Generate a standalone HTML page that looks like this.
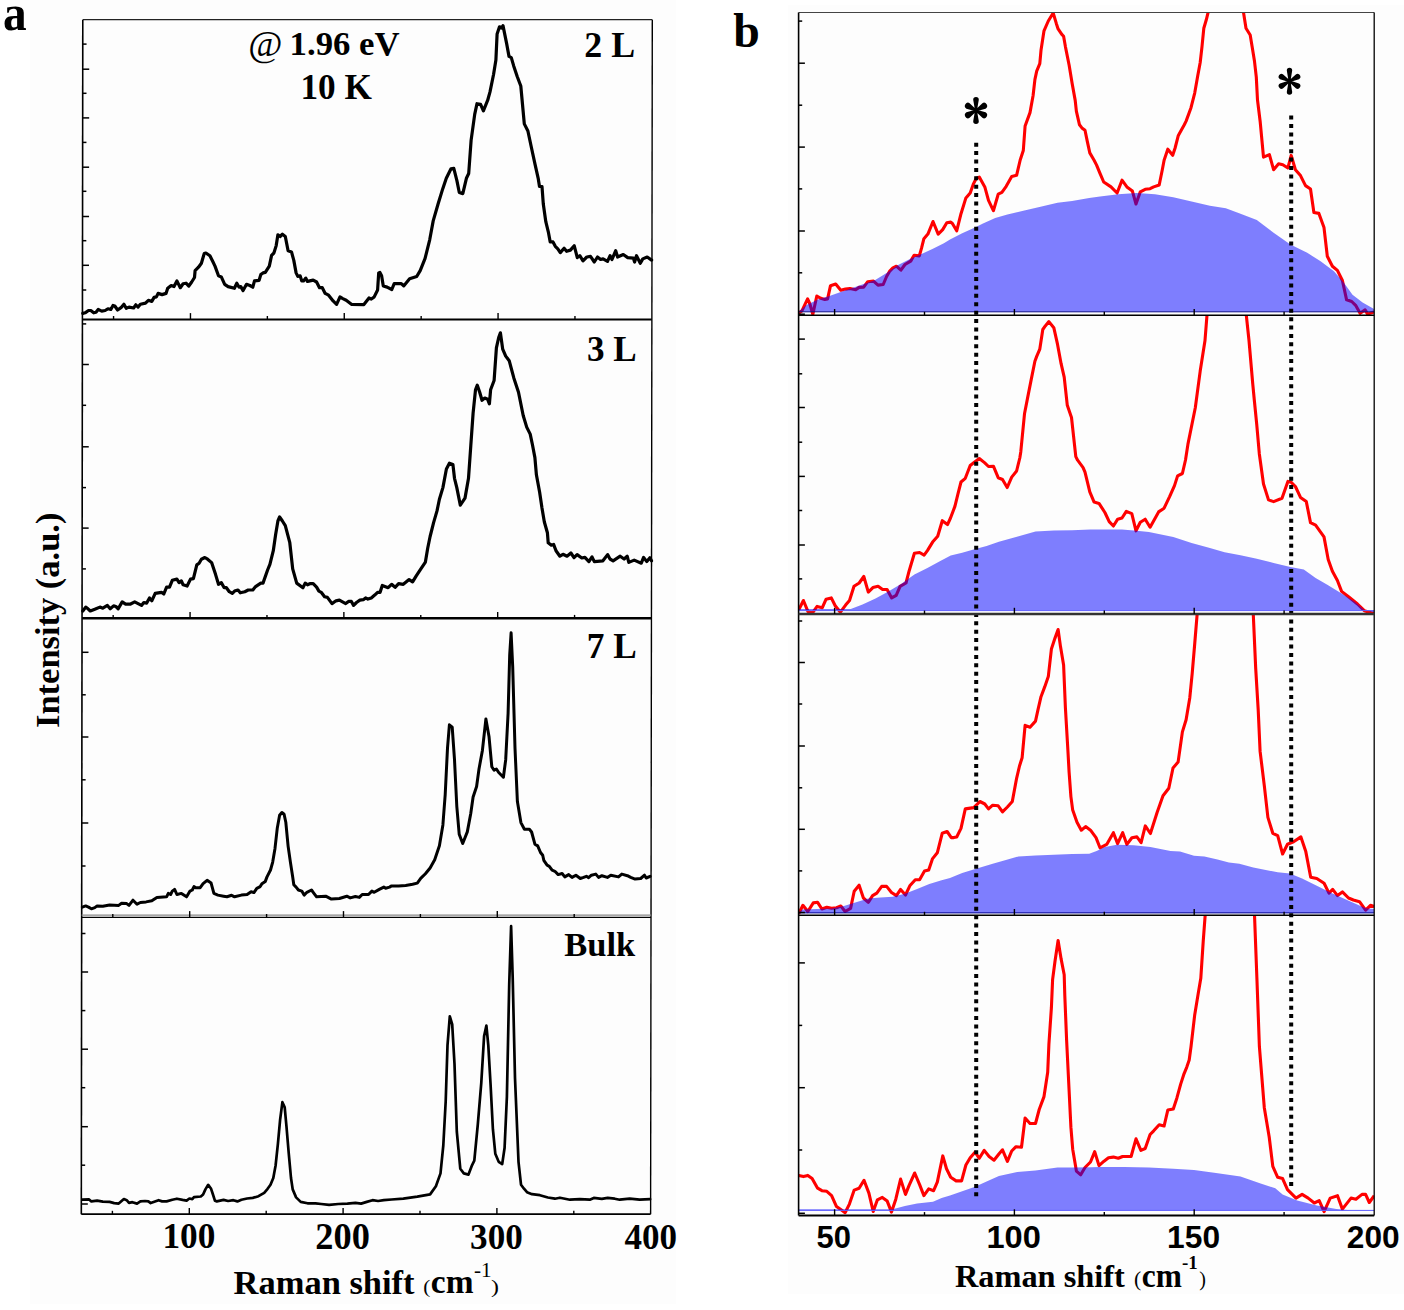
<!DOCTYPE html>
<html><head><meta charset="utf-8"><title>Raman spectra</title>
<style>html,body{margin:0;padding:0;background:#fff;overflow:hidden}svg{display:block}</style>
</head><body>
<svg width="1404" height="1310" viewBox="0 0 1404 1310">
<rect x="0" y="0" width="1404" height="1310" fill="#ffffff"/>
<rect x="30" y="0" width="646" height="1304" fill="#fdfdfd"/>
<rect x="788" y="5" width="616" height="1289" fill="#fdfdfd"/>
<polyline points="82.8,313.4 85.1,312.8 88.5,310.5 90.8,310.5 93.7,312.8 96.0,312.2 98.2,309.4 101.7,311.1 105.1,310.5 107.9,308.8 110.8,309.4 113.0,305.4 114.8,306.0 117.6,310.0 121.0,307.7 123.9,304.3 126.2,308.3 129.0,307.1 133.6,308.0 135.8,304.8 138.1,307.1 140.4,304.3 145.5,303.1 148.4,300.3 151.8,301.4 154.1,297.4 156.4,296.9 158.1,293.4 162.1,294.6 166.0,293.4 167.7,288.3 171.2,285.5 174.0,286.6 176.9,280.9 180.3,287.7 183.1,283.8 186.0,283.2 188.8,286.0 191.7,282.0 194.5,277.5 195.1,270.7 198.5,267.2 201.4,263.2 204.2,253.6 205.9,253.0 209.9,255.8 212.8,261.5 215.0,266.1 218.5,275.8 221.3,276.9 224.7,284.3 228.1,286.6 234.4,288.3 236.8,283.2 239.1,287.2 240.8,286.6 243.1,290.6 246.5,284.3 249.9,285.5 252.8,287.2 254.5,280.9 259.1,280.3 260.8,274.6 263.0,272.9 265.3,272.4 269.3,266.1 271.6,255.3 273.9,253.0 276.2,245.6 277.9,234.8 280.1,236.5 282.4,234.2 285.3,236.5 288.1,250.7 291.5,251.9 293.8,260.4 296.1,272.9 297.8,276.4 300.1,275.8 301.8,280.9 303.5,280.9 305.8,278.1 307.5,281.5 309.8,280.9 313.2,280.1 316.6,282.0 319.5,287.7 322.3,287.7 325.2,293.4 328.6,295.2 333.1,300.9 336.6,304.3 340.0,296.9 342.8,298.6 346.2,300.3 351.4,304.3 363.9,304.6 369.0,298.0 371.3,299.1 374.2,296.9 377.6,290.0 378.7,272.9 379.9,272.4 381.6,275.8 383.3,286.0 387.1,287.1 391.8,289.5 394.2,283.6 401.3,283.6 403.7,285.9 409.6,278.8 416.7,276.5 420.2,270.6 425.0,258.7 429.7,239.8 433.2,220.9 438.0,204.3 442.7,188.9 446.3,178.3 451.0,168.8 453.8,168.3 456.9,180.6 459.3,192.5 462.8,193.6 466.4,178.3 468.7,173.5 471.1,140.4 474.7,114.4 477.0,103.7 480.6,104.4 483.4,110.8 487.7,100.2 490.0,91.9 493.6,74.2 495.9,60.0 497.1,33.9 499.5,26.8 501.9,28.0 503.0,25.6 506.6,43.4 509.0,56.4 511.3,57.6 513.7,65.9 517.2,76.5 520.8,86.0 524.3,123.9 527.9,131.0 531.4,147.5 535.0,164.1 538.3,178.9 539.5,186.5 542.0,186.5 543.3,204.1 545.8,221.7 548.3,231.8 550.2,241.9 553.0,241.9 555.3,246.3 557.8,248.8 560.3,252.6 564.1,248.2 566.6,251.3 570.4,250.1 574.2,245.7 577.3,257.6 579.8,255.7 583.0,260.8 586.8,257.0 590.5,256.4 594.3,262.0 597.5,257.0 600.6,259.5 603.1,258.9 607.5,261.4 610.1,255.7 612.0,259.5 615.7,250.7 617.6,257.0 623.3,254.5 627.7,257.6 633.4,258.2 634.6,262.0 636.5,255.7 640.3,263.3 642.8,258.9 647.2,257.0 651.6,260.1" fill="none" stroke="#000" stroke-width="3.2" stroke-linejoin="round" stroke-linecap="round"/>
<polyline points="82.8,611.0 85.7,607.1 88.0,608.8 90.3,611.0 94.8,609.3 99.9,607.1 102.8,608.2 107.4,605.4 110.2,608.8 113.6,605.9 115.9,606.5 118.2,608.8 122.2,601.9 125.6,604.2 130.1,604.2 134.7,601.9 141.5,605.4 143.8,602.5 146.7,603.1 149.5,597.9 151.8,600.8 155.2,593.4 161.5,592.3 163.8,594.0 166.6,587.1 169.5,587.1 172.3,580.3 176.9,579.1 179.1,582.6 181.4,580.9 183.1,584.8 187.1,586.0 190.5,579.1 193.4,578.6 196.8,564.9 199.1,563.2 201.4,559.2 204.8,557.5 207.6,559.2 211.6,562.6 215.6,574.6 218.5,584.3 221.3,582.6 224.2,587.7 226.4,587.7 229.3,591.7 232.3,593.4 234.6,591.1 238.0,590.0 240.3,592.8 244.8,591.7 248.2,590.0 252.8,590.0 255.6,586.6 260.8,583.1 263.0,583.1 267.6,570.0 269.9,564.3 273.3,550.7 275.6,534.7 277.9,521.0 279.6,517.0 282.4,521.0 285.3,525.6 289.8,542.7 292.7,568.9 296.7,583.1 302.9,587.7 305.2,583.1 307.5,584.8 309.8,583.7 313.2,583.7 316.6,587.1 318.9,591.1 321.2,592.3 324.6,596.8 327.4,597.4 332.0,603.6 336.0,600.8 339.4,600.2 345.7,603.6 348.5,601.4 351.4,601.4 353.6,605.4 356.5,602.5 359.9,600.2 363.3,599.7 365.6,597.9 367.9,599.1 371.3,597.9 374.7,595.1 377.6,592.3 380.0,592.4 382.3,585.4 388.1,587.7 391.6,584.3 395.1,587.3 398.6,583.6 403.3,584.3 409.1,579.6 412.6,581.9 416.1,576.1 420.7,569.1 425.4,562.1 427.7,548.2 430.1,536.5 433.6,522.6 437.0,510.9 439.4,499.3 442.9,487.6 446.4,469.0 449.4,463.2 452.9,464.4 454.5,478.3 456.8,487.6 460.3,505.1 465.0,498.1 468.5,478.3 470.8,445.7 473.1,413.1 475.5,389.8 477.3,385.2 479.7,392.2 482.0,400.3 484.8,398.0 487.6,399.2 489.4,403.8 490.6,389.8 494.1,380.5 496.4,347.9 498.7,337.5 500.4,332.8 502.7,349.1 505.7,356.1 509.2,360.7 513.9,378.2 518.5,392.2 523.2,415.5 526.7,427.1 530.2,434.1 532.5,445.0 534.9,457.6 536.4,474.8 539.6,492.0 541.9,507.6 544.3,521.7 547.4,532.7 548.2,542.8 551.3,545.2 553.6,544.4 556.0,550.7 559.9,556.2 563.0,554.3 567.0,556.2 570.9,553.0 574.0,557.7 577.1,554.6 581.8,558.0 584.9,557.4 588.9,561.6 592.0,556.9 594.3,561.6 602.9,560.8 607.6,554.6 610.0,559.0 613.1,560.8 620.2,556.2 624.1,559.0 627.2,556.2 628.8,562.4 634.2,560.1 641.3,563.2 643.6,557.4 646.8,561.6 649.9,557.7 651.5,560.8" fill="none" stroke="#000" stroke-width="3.2" stroke-linejoin="round" stroke-linecap="round"/>
<polyline points="82.3,907.1 85.7,905.9 88.5,907.1 91.4,908.8 94.8,907.6 97.1,905.9 102.8,906.3 109.6,905.1 118.7,905.4 121.6,903.3 126.7,903.6 129.0,905.4 133.0,900.2 137.0,904.2 140.4,902.5 146.1,901.9 151.8,900.8 156.9,897.4 166.6,896.8 168.3,893.4 170.6,894.5 172.3,891.1 174.6,889.4 176.9,894.5 181.4,893.4 186.6,896.8 190.0,891.1 192.3,890.0 194.0,886.6 195.7,887.7 200.2,887.7 203.1,883.7 207.1,880.3 211.1,883.1 213.9,893.4 217.9,895.1 223.6,896.2 227.0,896.8 231.6,895.3 234.6,896.8 241.4,895.1 247.1,894.5 251.1,891.7 253.9,892.6 256.8,888.3 260.2,886.6 261.9,883.7 265.3,881.4 267.0,876.9 270.5,870.0 272.7,862.1 275.0,848.4 277.3,827.9 279.6,815.3 281.9,812.5 284.1,814.2 285.8,822.2 288.1,846.1 290.4,862.1 292.7,876.9 293.8,884.8 296.1,887.1 298.4,890.0 301.8,891.1 304.1,895.1 306.9,892.3 311.5,890.0 313.2,892.3 316.6,896.8 321.2,896.5 325.7,896.2 331.4,899.1 339.4,898.5 346.8,896.2 350.2,897.9 355.4,896.5 359.3,897.4 362.2,894.5 368.5,894.5 371.9,891.1 374.2,892.3 379.3,889.4 383.8,887.1 385.6,888.3 389.5,887.1 391.6,885.9 398.6,885.9 405.6,885.4 412.6,884.3 417.3,883.1 420.7,878.4 425.4,873.8 430.1,868.0 434.7,859.8 439.4,845.8 442.9,824.9 445.2,794.6 447.5,748.1 449.4,724.8 452.2,727.1 454.5,759.7 456.8,806.3 459.2,834.2 462.7,843.5 467.3,831.9 470.8,813.2 473.1,797.0 476.6,786.5 479.0,769.0 482.4,750.4 485.9,719.0 489.0,736.4 491.8,766.7 494.1,770.2 496.4,769.0 498.7,772.5 503.4,777.2 505.7,759.7 508.1,713.1 509.7,654.9 511.1,632.8 512.7,666.6 515.0,748.1 517.4,801.6 520.9,822.6 524.4,829.3 529.4,829.3 531.6,832.0 534.9,844.2 537.7,845.9 540.5,852.5 542.7,855.3 543.8,860.3 547.1,865.2 549.3,866.3 552.1,870.2 554.9,871.3 558.2,874.6 562.1,873.5 564.8,876.9 568.7,874.6 572.0,877.4 575.9,875.2 580.3,878.5 583.6,877.4 586.4,876.3 588.6,877.6 591.4,875.2 595.8,874.1 598.6,877.4 601.9,875.7 607.4,877.4 610.8,875.2 618.5,876.9 621.8,874.1 627.4,875.7 630.7,877.4 635.1,879.1 640.7,878.5 644.5,875.2 646.2,878.0 650.1,876.3" fill="none" stroke="#000" stroke-width="3.0" stroke-linejoin="round" stroke-linecap="round"/>
<polyline points="82.3,1199.7 89.1,1199.4 91.4,1201.4 97.1,1200.6 102.8,1201.7 109.6,1201.9 114.2,1203.1 118.7,1203.6 123.9,1199.1 126.7,1200.2 129.0,1202.8 132.4,1202.2 137.0,1203.6 140.4,1201.4 145.0,1201.0 148.4,1201.4 150.7,1203.1 158.6,1200.2 162.1,1201.4 166.6,1201.4 172.3,1199.7 176.9,1198.7 182.6,1199.9 186.6,1200.6 189.4,1198.5 192.3,1199.1 194.0,1197.1 200.8,1196.5 203.1,1194.5 205.4,1189.4 208.2,1184.8 211.1,1188.8 212.8,1194.0 215.0,1200.8 216.8,1201.4 223.6,1199.9 228.1,1201.0 233.4,1200.2 237.4,1201.4 241.4,1199.7 247.1,1198.5 252.8,1197.9 258.5,1196.2 264.2,1192.8 267.6,1188.8 270.5,1184.8 273.3,1178.0 275.6,1165.5 277.9,1143.8 280.1,1119.9 282.4,1102.2 284.7,1107.4 286.4,1125.6 288.7,1152.9 291.0,1178.0 292.7,1189.4 296.1,1197.4 300.7,1201.9 307.5,1203.3 315.5,1203.3 321.2,1204.0 329.1,1204.8 338.3,1204.0 347.4,1203.6 355.4,1202.8 361.1,1203.6 366.8,1201.9 372.5,1200.2 378.1,1201.0 383.8,1200.2 391.6,1199.5 403.3,1198.6 417.3,1196.7 430.1,1194.4 435.9,1186.2 440.5,1173.4 443.3,1145.5 445.7,1101.3 447.5,1045.4 449.8,1016.3 452.2,1024.4 454.5,1064.0 456.8,1131.5 460.3,1168.8 463.8,1173.4 468.5,1174.6 472.0,1165.3 474.3,1160.6 477.8,1124.5 481.3,1082.6 484.1,1036.1 486.4,1025.6 488.3,1045.4 490.6,1085.0 492.9,1129.2 495.3,1153.7 498.7,1161.8 502.2,1164.1 504.6,1147.8 506.9,1096.6 509.2,984.8 511.1,926.2 512.7,977.9 515.0,1078.0 518.5,1161.8 521.0,1184.7 524.0,1188.7 527.0,1192.2 532.0,1194.2 539.9,1195.2 547.9,1197.5 554.9,1198.7 559.9,1197.7 569.9,1199.7 579.8,1199.2 589.8,1199.7 593.8,1197.9 601.8,1198.9 607.7,1197.9 614.7,1198.7 619.7,1199.7 629.7,1198.7 639.6,1199.7 650.1,1199.2" fill="none" stroke="#000" stroke-width="2.7" stroke-linejoin="round" stroke-linecap="round"/>
<line x1="82.79" y1="19.70" x2="652.30" y2="19.70" stroke="#222" stroke-width="1.3"/>
<line x1="82.79" y1="19.70" x2="81.30" y2="1214.20" stroke="#000" stroke-width="1.6"/>
<line x1="652.30" y1="19.70" x2="650.60" y2="1214.20" stroke="#000" stroke-width="1.4"/>
<line x1="82.42" y1="319.40" x2="651.87" y2="319.40" stroke="#000" stroke-width="2.0"/>
<line x1="82.04" y1="618.30" x2="651.45" y2="618.30" stroke="#000" stroke-width="2.4"/>
<line x1="81.67" y1="915.20" x2="651.02" y2="915.20" stroke="#888" stroke-width="1.3"/>
<line x1="81.67" y1="917.40" x2="651.02" y2="917.40" stroke="#000" stroke-width="1.4"/>
<line x1="81.30" y1="1214.20" x2="650.60" y2="1214.20" stroke="#000" stroke-width="1.8"/>
<line x1="82.76" y1="44.10" x2="86.56" y2="44.10" stroke="#000" stroke-width="1.5"/>
<line x1="82.73" y1="69.20" x2="89.23" y2="69.20" stroke="#000" stroke-width="1.5"/>
<line x1="82.70" y1="93.30" x2="86.50" y2="93.30" stroke="#000" stroke-width="1.5"/>
<line x1="82.67" y1="117.90" x2="89.17" y2="117.90" stroke="#000" stroke-width="1.5"/>
<line x1="82.64" y1="142.40" x2="86.44" y2="142.40" stroke="#000" stroke-width="1.5"/>
<line x1="82.61" y1="167.20" x2="89.11" y2="167.20" stroke="#000" stroke-width="1.5"/>
<line x1="82.58" y1="191.30" x2="86.38" y2="191.30" stroke="#000" stroke-width="1.5"/>
<line x1="82.55" y1="216.50" x2="89.05" y2="216.50" stroke="#000" stroke-width="1.5"/>
<line x1="82.52" y1="240.70" x2="86.32" y2="240.70" stroke="#000" stroke-width="1.5"/>
<line x1="82.49" y1="265.30" x2="88.99" y2="265.30" stroke="#000" stroke-width="1.5"/>
<line x1="82.45" y1="290.00" x2="86.25" y2="290.00" stroke="#000" stroke-width="1.5"/>
<line x1="82.41" y1="323.90" x2="86.21" y2="323.90" stroke="#000" stroke-width="1.5"/>
<line x1="82.36" y1="364.50" x2="88.86" y2="364.50" stroke="#000" stroke-width="1.5"/>
<line x1="82.31" y1="405.30" x2="86.11" y2="405.30" stroke="#000" stroke-width="1.5"/>
<line x1="82.26" y1="446.80" x2="88.76" y2="446.80" stroke="#000" stroke-width="1.5"/>
<line x1="82.21" y1="487.60" x2="86.01" y2="487.60" stroke="#000" stroke-width="1.5"/>
<line x1="82.16" y1="528.10" x2="88.66" y2="528.10" stroke="#000" stroke-width="1.5"/>
<line x1="82.11" y1="568.90" x2="85.91" y2="568.90" stroke="#000" stroke-width="1.5"/>
<line x1="82.00" y1="652.30" x2="88.50" y2="652.30" stroke="#000" stroke-width="1.5"/>
<line x1="81.95" y1="694.80" x2="85.75" y2="694.80" stroke="#000" stroke-width="1.5"/>
<line x1="81.90" y1="737.00" x2="88.40" y2="737.00" stroke="#000" stroke-width="1.5"/>
<line x1="81.84" y1="779.80" x2="85.64" y2="779.80" stroke="#000" stroke-width="1.5"/>
<line x1="81.79" y1="823.00" x2="88.29" y2="823.00" stroke="#000" stroke-width="1.5"/>
<line x1="81.73" y1="866.00" x2="85.53" y2="866.00" stroke="#000" stroke-width="1.5"/>
<line x1="81.65" y1="933.50" x2="85.45" y2="933.50" stroke="#000" stroke-width="1.5"/>
<line x1="81.60" y1="972.00" x2="88.10" y2="972.00" stroke="#000" stroke-width="1.5"/>
<line x1="81.55" y1="1010.60" x2="85.35" y2="1010.60" stroke="#000" stroke-width="1.5"/>
<line x1="81.51" y1="1049.20" x2="88.01" y2="1049.20" stroke="#000" stroke-width="1.5"/>
<line x1="81.46" y1="1087.70" x2="85.26" y2="1087.70" stroke="#000" stroke-width="1.5"/>
<line x1="81.41" y1="1126.70" x2="87.91" y2="1126.70" stroke="#000" stroke-width="1.5"/>
<line x1="81.36" y1="1165.20" x2="85.16" y2="1165.20" stroke="#000" stroke-width="1.5"/>
<line x1="81.31" y1="1204.00" x2="87.81" y2="1204.00" stroke="#000" stroke-width="1.5"/>
<line x1="113.56" y1="319.40" x2="113.56" y2="316.00" stroke="#000" stroke-width="1.4"/>
<line x1="190.46" y1="319.40" x2="190.46" y2="313.10" stroke="#000" stroke-width="1.4"/>
<line x1="267.36" y1="319.40" x2="267.36" y2="316.00" stroke="#000" stroke-width="1.4"/>
<line x1="344.26" y1="319.40" x2="344.26" y2="313.10" stroke="#000" stroke-width="1.4"/>
<line x1="421.16" y1="319.40" x2="421.16" y2="316.00" stroke="#000" stroke-width="1.4"/>
<line x1="498.06" y1="319.40" x2="498.06" y2="313.10" stroke="#000" stroke-width="1.4"/>
<line x1="574.96" y1="319.40" x2="574.96" y2="316.00" stroke="#000" stroke-width="1.4"/>
<line x1="113.17" y1="618.30" x2="113.17" y2="614.90" stroke="#000" stroke-width="1.4"/>
<line x1="190.07" y1="618.30" x2="190.07" y2="612.00" stroke="#000" stroke-width="1.4"/>
<line x1="266.97" y1="618.30" x2="266.97" y2="614.90" stroke="#000" stroke-width="1.4"/>
<line x1="343.87" y1="618.30" x2="343.87" y2="612.00" stroke="#000" stroke-width="1.4"/>
<line x1="420.77" y1="618.30" x2="420.77" y2="614.90" stroke="#000" stroke-width="1.4"/>
<line x1="497.67" y1="618.30" x2="497.67" y2="612.00" stroke="#000" stroke-width="1.4"/>
<line x1="574.57" y1="618.30" x2="574.57" y2="614.90" stroke="#000" stroke-width="1.4"/>
<line x1="112.79" y1="917.40" x2="112.79" y2="914.00" stroke="#000" stroke-width="1.4"/>
<line x1="189.69" y1="917.40" x2="189.69" y2="911.10" stroke="#000" stroke-width="1.4"/>
<line x1="266.59" y1="917.40" x2="266.59" y2="914.00" stroke="#000" stroke-width="1.4"/>
<line x1="343.49" y1="917.40" x2="343.49" y2="911.10" stroke="#000" stroke-width="1.4"/>
<line x1="420.39" y1="917.40" x2="420.39" y2="914.00" stroke="#000" stroke-width="1.4"/>
<line x1="497.29" y1="917.40" x2="497.29" y2="911.10" stroke="#000" stroke-width="1.4"/>
<line x1="574.19" y1="917.40" x2="574.19" y2="914.00" stroke="#000" stroke-width="1.4"/>
<line x1="112.40" y1="1214.20" x2="112.40" y2="1210.80" stroke="#000" stroke-width="1.4"/>
<line x1="189.30" y1="1214.20" x2="189.30" y2="1207.90" stroke="#000" stroke-width="1.4"/>
<line x1="266.20" y1="1214.20" x2="266.20" y2="1210.80" stroke="#000" stroke-width="1.4"/>
<line x1="343.10" y1="1214.20" x2="343.10" y2="1207.90" stroke="#000" stroke-width="1.4"/>
<line x1="420.00" y1="1214.20" x2="420.00" y2="1210.80" stroke="#000" stroke-width="1.4"/>
<line x1="496.90" y1="1214.20" x2="496.90" y2="1207.90" stroke="#000" stroke-width="1.4"/>
<line x1="573.80" y1="1214.20" x2="573.80" y2="1210.80" stroke="#000" stroke-width="1.4"/>
<clipPath id="cb0"><rect x="798.6" y="13.0" width="575.6" height="302.2"/></clipPath>
<g clip-path="url(#cb0)">
<polyline points="798.4,313.2 801.9,310.9 807.6,298.9 809.9,304.0 812.8,314.3 816.8,296.0 820.8,298.3 824.8,299.4 827.6,298.9 830.5,285.7 835.7,284.0 840.8,290.3 845.4,289.1 850.0,288.5 855.7,289.7 859.1,287.4 863.7,287.1 867.7,281.7 873.5,281.1 878.0,285.1 883.2,284.5 886.6,276.5 889.5,271.4 892.9,267.9 896.4,266.2 900.9,270.2 905.0,264.5 910.7,261.1 914.1,255.3 919.3,255.9 921.6,247.9 923.9,238.7 927.9,234.1 933.0,221.5 938.2,234.1 942.7,229.6 946.8,222.7 950.8,222.1 952.4,223.5 956.7,230.8 961.0,213.7 965.9,197.9 970.2,193.0 973.2,184.4 976.3,178.3 979.3,177.1 984.8,186.9 988.5,200.3 993.4,210.7 998.2,194.2 1001.9,192.4 1006.2,186.3 1011.7,176.5 1016.6,175.3 1020.2,160.0 1023.3,150.5 1025.1,126.0 1030.0,112.6 1033.1,95.5 1034.9,79.6 1036.7,71.1 1039.8,63.7 1041.0,50.3 1044.0,30.8 1048.3,21.0 1053.2,13.0 1056.3,23.4 1058.1,28.9 1061.8,34.4 1063.6,36.3 1065.4,46.6 1069.1,65.0 1072.1,83.3 1075.2,100.4 1076.4,111.4 1079.5,124.8 1081.9,127.9 1085.0,130.3 1087.4,141.9 1089.8,152.9 1094.1,160.2 1096.6,165.1 1100.0,173.4 1103.7,182.0 1111.0,186.9 1117.1,193.0 1122.0,180.2 1126.9,186.9 1132.4,191.1 1136.0,204.0 1140.3,191.8 1145.2,189.3 1150.1,188.7 1153.7,186.9 1159.2,185.0 1162.3,169.8 1164.1,160.2 1167.8,149.2 1172.7,155.3 1175.1,148.0 1178.2,135.8 1184.3,124.8 1186.1,121.1 1191.0,107.7 1194.7,93.1 1197.7,76.0 1200.2,62.5 1202.0,46.6 1203.8,28.3 1206.3,19.8 1208.1,12.4 1212.0,-20.0 1240.0,-20.0 1243.5,12.4 1246.0,28.3 1250.2,35.0 1252.1,46.6 1254.5,61.3 1256.3,77.2 1257.5,100.0 1260.2,121.8 1263.5,157.1 1269.4,154.6 1273.6,169.7 1278.6,163.8 1282.8,164.7 1287.9,168.0 1291.2,155.4 1295.4,169.7 1300.5,175.6 1305.5,185.6 1310.5,189.0 1313.9,212.5 1318.9,213.4 1324.0,227.6 1327.3,256.2 1332.4,266.2 1337.4,270.4 1342.4,280.5 1346.6,299.8 1351.7,301.5 1355.9,305.7 1360.1,313.3 1365.1,309.9 1367.6,314.1 1374.0,312.0" fill="none" stroke="#ff0000" stroke-width="3.1" stroke-linejoin="round"/>
<polygon points="798.4,312.0 806.5,305.1 817.9,299.4 829.4,296.0 840.8,292.0 852.3,288.0 863.7,284.0 875.2,280.0 886.6,273.1 898.1,265.1 909.5,259.3 921.0,254.2 932.4,249.0 943.9,243.3 950.0,239.4 962.2,233.3 974.4,227.8 983.0,223.5 995.2,218.0 1007.4,214.4 1023.3,210.7 1041.6,206.4 1057.5,202.7 1072.1,200.9 1089.2,197.9 1100.0,196.6 1118.3,194.2 1136.6,193.0 1155.0,194.2 1173.3,197.3 1191.6,201.5 1209.9,205.8 1225.8,208.2 1240.5,213.7 1256.8,220.1 1273.6,232.7 1290.4,244.4 1307.2,252.8 1320.6,261.2 1334.0,271.3 1344.1,283.0 1352.5,294.8 1362.6,302.4 1372.7,308.2 1374.0,309.0 1374.0,311.8 798.4,311.8" fill="#0000ff" fill-opacity="0.5"/>
<line x1="798.6" y1="311.8" x2="1374.2" y2="311.8" stroke="#10108a" stroke-width="1"/>
</g>
<clipPath id="cb1"><rect x="798.6" y="315.7" width="575.6" height="298.3"/></clipPath>
<g clip-path="url(#cb1)">
<polyline points="798.9,609.6 803.4,600.5 808.0,611.6 812.5,612.9 817.1,606.4 822.3,607.7 826.1,599.2 831.3,597.9 835.2,605.7 840.4,612.2 845.6,605.1 849.5,600.5 854.0,586.3 859.2,583.0 863.8,576.5 868.3,592.1 872.9,587.6 878.1,586.3 882.6,589.5 887.1,589.5 891.7,597.9 896.2,595.3 900.1,586.3 906.0,583.0 909.2,570.7 914.4,553.2 919.6,552.5 924.1,555.1 927.4,550.6 932.6,542.1 937.7,536.3 942.3,520.7 947.5,524.6 950.5,518.0 954.9,506.4 957.9,494.2 961.0,482.0 965.3,478.3 970.2,465.5 974.4,462.2 979.3,458.5 984.5,462.6 988.5,466.5 993.4,466.2 998.2,477.7 1002.5,479.5 1007.2,487.5 1011.7,477.1 1016.6,471.0 1019.8,458.0 1020.8,451.7 1024.5,413.8 1027.6,397.9 1031.2,379.6 1034.9,361.3 1036.7,356.4 1039.8,349.1 1042.8,329.5 1045.3,325.9 1048.9,321.6 1053.8,327.7 1057.5,344.2 1061.1,363.7 1064.2,377.2 1067.3,405.3 1071.5,417.5 1075.8,456.6 1077.6,460.2 1083.1,467.6 1085.0,472.2 1089.8,491.8 1094.1,502.1 1099.0,503.4 1104.9,512.5 1109.2,521.7 1113.4,526.0 1117.7,519.2 1122.0,518.0 1126.3,511.3 1131.8,513.7 1136.0,530.8 1140.3,522.3 1145.2,519.2 1150.1,527.2 1158.6,511.9 1164.1,508.2 1169.6,496.6 1174.5,485.6 1177.6,475.9 1182.4,473.5 1185.5,460.0 1187.9,444.4 1195.3,407.7 1200.2,371.1 1205.0,340.5 1207.2,312.4 1212.0,280.0 1240.0,280.0 1246.0,312.4 1249.0,340.5 1252.7,383.3 1254.3,400.0 1256.8,425.2 1259.3,453.7 1263.5,484.0 1268.5,499.9 1273.6,501.6 1282.0,498.2 1287.9,481.4 1291.2,482.3 1295.4,486.5 1300.5,497.4 1306.3,501.6 1310.5,522.6 1315.6,525.1 1324.0,536.9 1328.2,559.5 1332.4,571.3 1337.4,580.5 1341.6,591.4 1349.2,597.3 1357.5,604.0 1364.3,610.7 1372.7,613.3 1374.0,613.3" fill="none" stroke="#ff0000" stroke-width="3.1" stroke-linejoin="round"/>
<polygon points="798.9,609.0 850.8,609.0 862.5,604.4 875.5,598.6 888.4,591.4 901.4,583.7 914.4,574.6 927.4,568.1 940.3,561.0 950.7,555.4 962.2,552.8 974.4,549.2 986.6,546.1 998.9,541.8 1016.0,537.0 1035.5,531.5 1053.8,530.6 1072.1,530.2 1090.5,529.4 1110.0,529.4 1122.0,529.4 1136.6,530.8 1148.9,532.1 1173.3,537.0 1191.6,543.1 1209.9,547.9 1224.6,552.2 1240.5,555.3 1256.8,558.7 1273.6,562.9 1290.4,567.1 1303.8,569.6 1315.6,578.0 1327.3,584.7 1340.8,593.1 1354.2,601.5 1364.3,609.9 1372.7,611.9 1374.0,612.0 1374.0,610.6 798.9,610.6" fill="#0000ff" fill-opacity="0.5"/>
<line x1="798.6" y1="610.6" x2="1374.2" y2="610.6" stroke="#6060ff" stroke-width="1"/>
</g>
<clipPath id="cb2"><rect x="798.6" y="614.5" width="575.6" height="300.70000000000005"/></clipPath>
<g clip-path="url(#cb2)">
<polyline points="798.7,913.9 802.9,905.3 807.8,911.5 813.3,902.9 817.6,902.3 821.9,909.0 826.8,907.2 831.6,908.2 836.5,907.8 840.8,906.0 845.1,911.5 850.6,908.4 854.2,891.3 859.1,885.2 863.4,898.0 868.3,902.3 872.6,895.6 876.8,893.1 881.7,886.4 886.6,886.4 891.5,892.5 896.4,895.6 900.6,889.5 905.5,895.0 909.8,885.8 915.3,879.7 919.6,879.7 924.5,871.1 928.7,869.9 932.4,858.9 937.3,852.8 942.2,833.3 947.1,831.5 951.3,837.6 953.7,837.6 956.7,837.0 961.0,828.4 965.3,808.9 973.8,807.6 979.9,801.5 984.8,804.0 988.5,808.9 992.7,805.2 998.2,805.8 1002.5,811.9 1007.4,807.0 1012.3,801.5 1016.6,778.3 1019.5,766.0 1022.1,757.8 1025.1,725.4 1030.0,727.3 1035.5,721.1 1037.9,710.2 1041.0,696.7 1044.7,686.9 1048.3,676.6 1051.4,649.1 1055.0,638.1 1058.1,629.5 1060.5,646.6 1063.6,665.0 1065.4,707.7 1067.9,750.5 1069.1,772.2 1070.9,796.6 1072.7,810.1 1077.0,822.3 1081.3,830.2 1085.6,826.6 1090.5,830.2 1096.0,837.6 1100.0,847.8 1106.7,844.4 1113.4,832.7 1117.6,843.6 1122.7,832.7 1126.9,844.4 1131.9,837.7 1136.9,836.9 1141.1,842.7 1145.3,825.9 1150.4,833.5 1157.1,812.5 1163.0,795.7 1168.8,788.2 1173.0,768.0 1178.1,762.1 1182.4,731.9 1186.1,719.7 1189.8,697.7 1192.2,673.3 1194.7,644.0 1197.1,614.7 1200.0,590.0 1250.0,590.0 1253.3,614.7 1255.7,668.4 1258.2,709.9 1260.1,751.4 1264.3,785.6 1267.9,817.4 1272.8,833.3 1277.7,835.7 1282.6,854.0 1287.5,844.3 1293.6,841.8 1300.9,836.9 1305.8,851.6 1310.7,877.2 1316.8,878.5 1324.1,883.3 1329.0,893.1 1332.7,889.4 1337.5,895.6 1342.4,891.9 1348.5,898.0 1353.4,900.0 1359.5,901.7 1365.6,910.2 1370.5,905.3 1374.2,906.5" fill="none" stroke="#ff0000" stroke-width="3.1" stroke-linejoin="round"/>
<polygon points="798.7,912.7 802.3,909.6 831.6,908.4 843.9,906.0 856.1,902.3 868.3,898.6 880.5,897.4 892.7,896.8 904.9,893.7 917.1,888.9 929.3,884.0 941.6,880.3 950.0,877.9 962.2,873.0 974.4,869.3 992.7,863.8 1005.0,860.2 1018.4,856.5 1035.5,855.5 1053.8,854.7 1072.1,854.0 1089.2,853.8 1096.6,851.0 1105.0,847.0 1116.8,844.8 1133.6,845.3 1150.4,846.9 1170.5,851.1 1180.0,851.6 1194.0,855.8 1204.4,856.5 1217.5,859.5 1228.9,862.6 1239.4,863.7 1253.3,867.5 1277.7,872.3 1289.9,873.6 1302.1,878.5 1316.8,885.8 1331.4,893.1 1351.0,901.7 1365.6,908.3 1374.2,909.0 1374.2,912.9 798.7,912.9" fill="#0000ff" fill-opacity="0.5"/>
<line x1="798.6" y1="912.9" x2="1374.2" y2="912.9" stroke="#000090" stroke-width="1"/>
</g>
<clipPath id="cb3"><rect x="798.6" y="915.7" width="575.6" height="299.79999999999995"/></clipPath>
<g clip-path="url(#cb3)">
<polyline points="798.7,1175.4 803.5,1176.6 807.8,1175.4 812.1,1178.5 817.6,1188.2 821.9,1190.7 826.8,1191.3 831.6,1195.6 836.5,1206.6 840.8,1209.6 845.1,1212.7 849.4,1204.1 854.2,1190.1 859.1,1188.2 864.0,1180.3 868.9,1193.1 873.2,1211.5 877.4,1199.8 882.3,1197.4 887.2,1201.1 891.5,1212.1 895.8,1199.2 900.6,1179.1 905.5,1194.4 909.2,1185.2 914.7,1173.0 919.6,1184.6 923.9,1195.6 928.7,1188.9 933.6,1190.7 937.3,1182.1 942.8,1155.9 946.5,1168.7 950.7,1177.3 956.1,1180.9 961.6,1180.9 965.9,1165.0 970.2,1157.7 975.0,1152.2 979.3,1158.3 984.2,1150.4 989.1,1156.5 994.0,1160.2 998.9,1154.0 1002.5,1149.8 1007.4,1161.4 1011.7,1151.0 1016.0,1146.7 1021.5,1147.3 1025.1,1118.0 1030.0,1123.5 1035.5,1123.5 1039.2,1109.5 1044.0,1096.6 1047.7,1072.2 1048.9,1044.4 1051.4,1007.7 1052.6,979.6 1055.0,961.3 1058.1,940.5 1061.1,958.9 1064.2,974.7 1064.8,995.5 1066.6,1040.0 1069.1,1090.5 1070.9,1127.2 1072.7,1149.2 1076.4,1171.1 1080.7,1174.8 1085.0,1167.5 1090.5,1162.0 1094.7,1151.6 1099.0,1165.6 1103.7,1161.4 1108.5,1157.7 1113.4,1157.1 1118.3,1158.3 1122.6,1156.5 1131.1,1156.5 1136.0,1138.8 1140.9,1150.4 1145.2,1148.5 1150.1,1134.5 1153.7,1130.8 1159.2,1124.7 1164.1,1126.0 1167.8,1110.1 1173.3,1108.9 1176.9,1097.9 1180.6,1084.4 1183.7,1074.7 1186.7,1067.3 1189.2,1060.0 1191.0,1046.7 1194.7,1014.9 1198.3,992.9 1200.8,978.3 1203.2,941.6 1205.2,914.8 1208.0,890.0 1250.0,890.0 1254.5,914.8 1256.9,978.3 1259.4,1046.7 1264.3,1107.7 1269.2,1137.0 1272.8,1166.4 1277.7,1177.3 1282.6,1178.6 1287.5,1189.6 1296.0,1198.1 1302.1,1194.4 1308.2,1198.1 1314.3,1203.0 1319.2,1200.6 1324.1,1211.6 1330.2,1198.1 1337.5,1195.7 1342.4,1209.1 1351.0,1198.1 1355.9,1199.3 1362.0,1194.4 1365.6,1194.4 1369.3,1202.5 1374.2,1195.7" fill="none" stroke="#ff0000" stroke-width="3.1" stroke-linejoin="round"/>
<polygon points="798.7,1209.3 892.7,1209.3 904.9,1206.0 917.1,1203.5 933.0,1201.7 941.6,1198.0 950.0,1195.6 962.2,1191.3 974.4,1187.0 986.6,1181.5 998.9,1176.0 1017.2,1172.1 1035.5,1170.5 1057.5,1167.5 1072.1,1167.5 1091.7,1167.2 1100.0,1166.9 1124.4,1166.9 1148.9,1167.5 1173.3,1168.7 1194.0,1169.9 1216.0,1173.0 1240.5,1176.6 1260.6,1183.5 1275.3,1188.3 1282.6,1194.4 1297.2,1200.6 1316.8,1205.4 1336.3,1209.1 1355.9,1210.8 1374.0,1210.8 1374.0,1210.4 798.7,1210.4" fill="#0000ff" fill-opacity="0.5"/>
<line x1="798.6" y1="1210.4" x2="1374.2" y2="1210.4" stroke="#6060ff" stroke-width="1"/>
</g>
<line x1="976.2" y1="142.7" x2="976.2" y2="1196.4" stroke="#000" stroke-width="4.0" stroke-dasharray="4.0 4.397"/>
<line x1="1291.2" y1="115.6" x2="1291.2" y2="1186.1" stroke="#000" stroke-width="4.0" stroke-dasharray="4.0 4.397"/>
<line x1="798.60" y1="12.50" x2="1374.20" y2="12.50" stroke="#444" stroke-width="1.2"/>
<line x1="798.60" y1="12.50" x2="798.60" y2="1215.50" stroke="#000" stroke-width="1.6"/>
<line x1="1374.20" y1="12.50" x2="1374.20" y2="1215.50" stroke="#000" stroke-width="1.3"/>
<line x1="798.60" y1="315.20" x2="1374.20" y2="315.20" stroke="#000" stroke-width="1.5"/>
<line x1="798.60" y1="614.00" x2="1374.20" y2="614.00" stroke="#333" stroke-width="2.6"/>
<line x1="798.60" y1="915.20" x2="1374.20" y2="915.20" stroke="#000" stroke-width="1.5"/>
<line x1="798.60" y1="1215.50" x2="1374.20" y2="1215.50" stroke="#000" stroke-width="1.8"/>
<line x1="798.60" y1="21.10" x2="802.20" y2="21.10" stroke="#000" stroke-width="1.5"/>
<line x1="798.60" y1="63.20" x2="804.90" y2="63.20" stroke="#000" stroke-width="1.5"/>
<line x1="798.60" y1="105.20" x2="802.20" y2="105.20" stroke="#000" stroke-width="1.5"/>
<line x1="798.60" y1="147.10" x2="804.90" y2="147.10" stroke="#000" stroke-width="1.5"/>
<line x1="798.60" y1="188.90" x2="802.20" y2="188.90" stroke="#000" stroke-width="1.5"/>
<line x1="798.60" y1="231.00" x2="804.90" y2="231.00" stroke="#000" stroke-width="1.5"/>
<line x1="798.60" y1="272.80" x2="802.20" y2="272.80" stroke="#000" stroke-width="1.5"/>
<line x1="798.60" y1="314.20" x2="804.90" y2="314.20" stroke="#000" stroke-width="1.5"/>
<line x1="798.60" y1="339.10" x2="804.90" y2="339.10" stroke="#000" stroke-width="1.5"/>
<line x1="798.60" y1="373.80" x2="802.20" y2="373.80" stroke="#000" stroke-width="1.5"/>
<line x1="798.60" y1="407.50" x2="804.90" y2="407.50" stroke="#000" stroke-width="1.5"/>
<line x1="798.60" y1="442.20" x2="802.20" y2="442.20" stroke="#000" stroke-width="1.5"/>
<line x1="798.60" y1="476.40" x2="804.90" y2="476.40" stroke="#000" stroke-width="1.5"/>
<line x1="798.60" y1="510.50" x2="802.20" y2="510.50" stroke="#000" stroke-width="1.5"/>
<line x1="798.60" y1="545.00" x2="804.90" y2="545.00" stroke="#000" stroke-width="1.5"/>
<line x1="798.60" y1="578.90" x2="802.20" y2="578.90" stroke="#000" stroke-width="1.5"/>
<line x1="798.60" y1="621.00" x2="802.20" y2="621.00" stroke="#000" stroke-width="1.5"/>
<line x1="798.60" y1="662.50" x2="804.90" y2="662.50" stroke="#000" stroke-width="1.5"/>
<line x1="798.60" y1="704.00" x2="802.20" y2="704.00" stroke="#000" stroke-width="1.5"/>
<line x1="798.60" y1="746.00" x2="804.90" y2="746.00" stroke="#000" stroke-width="1.5"/>
<line x1="798.60" y1="787.80" x2="802.20" y2="787.80" stroke="#000" stroke-width="1.5"/>
<line x1="798.60" y1="829.30" x2="804.90" y2="829.30" stroke="#000" stroke-width="1.5"/>
<line x1="798.60" y1="870.90" x2="802.20" y2="870.90" stroke="#000" stroke-width="1.5"/>
<line x1="798.60" y1="912.50" x2="804.90" y2="912.50" stroke="#000" stroke-width="1.5"/>
<line x1="798.60" y1="962.90" x2="804.90" y2="962.90" stroke="#000" stroke-width="1.5"/>
<line x1="798.60" y1="1025.40" x2="802.20" y2="1025.40" stroke="#000" stroke-width="1.5"/>
<line x1="798.60" y1="1087.70" x2="804.90" y2="1087.70" stroke="#000" stroke-width="1.5"/>
<line x1="798.60" y1="1150.00" x2="802.20" y2="1150.00" stroke="#000" stroke-width="1.5"/>
<line x1="798.60" y1="1213.30" x2="804.90" y2="1213.30" stroke="#000" stroke-width="1.5"/>
<line x1="834.60" y1="315.20" x2="834.60" y2="309.00" stroke="#000" stroke-width="1.4"/>
<line x1="924.50" y1="315.20" x2="924.50" y2="311.80" stroke="#000" stroke-width="1.4"/>
<line x1="1014.40" y1="315.20" x2="1014.40" y2="309.00" stroke="#000" stroke-width="1.4"/>
<line x1="1104.30" y1="315.20" x2="1104.30" y2="311.80" stroke="#000" stroke-width="1.4"/>
<line x1="1194.20" y1="315.20" x2="1194.20" y2="309.00" stroke="#000" stroke-width="1.4"/>
<line x1="1284.10" y1="315.20" x2="1284.10" y2="311.80" stroke="#000" stroke-width="1.4"/>
<line x1="834.60" y1="614.00" x2="834.60" y2="607.80" stroke="#000" stroke-width="1.4"/>
<line x1="924.50" y1="614.00" x2="924.50" y2="610.60" stroke="#000" stroke-width="1.4"/>
<line x1="1014.40" y1="614.00" x2="1014.40" y2="607.80" stroke="#000" stroke-width="1.4"/>
<line x1="1104.30" y1="614.00" x2="1104.30" y2="610.60" stroke="#000" stroke-width="1.4"/>
<line x1="1194.20" y1="614.00" x2="1194.20" y2="607.80" stroke="#000" stroke-width="1.4"/>
<line x1="1284.10" y1="614.00" x2="1284.10" y2="610.60" stroke="#000" stroke-width="1.4"/>
<line x1="834.60" y1="915.20" x2="834.60" y2="909.00" stroke="#000" stroke-width="1.4"/>
<line x1="924.50" y1="915.20" x2="924.50" y2="911.80" stroke="#000" stroke-width="1.4"/>
<line x1="1014.40" y1="915.20" x2="1014.40" y2="909.00" stroke="#000" stroke-width="1.4"/>
<line x1="1104.30" y1="915.20" x2="1104.30" y2="911.80" stroke="#000" stroke-width="1.4"/>
<line x1="1194.20" y1="915.20" x2="1194.20" y2="909.00" stroke="#000" stroke-width="1.4"/>
<line x1="1284.10" y1="915.20" x2="1284.10" y2="911.80" stroke="#000" stroke-width="1.4"/>
<line x1="834.60" y1="1215.50" x2="834.60" y2="1209.30" stroke="#000" stroke-width="1.4"/>
<line x1="924.50" y1="1215.50" x2="924.50" y2="1212.10" stroke="#000" stroke-width="1.4"/>
<line x1="1014.40" y1="1215.50" x2="1014.40" y2="1209.30" stroke="#000" stroke-width="1.4"/>
<line x1="1104.30" y1="1215.50" x2="1104.30" y2="1212.10" stroke="#000" stroke-width="1.4"/>
<line x1="1194.20" y1="1215.50" x2="1194.20" y2="1209.30" stroke="#000" stroke-width="1.4"/>
<line x1="1284.10" y1="1215.50" x2="1284.10" y2="1212.10" stroke="#000" stroke-width="1.4"/>
<g transform="translate(3.09,29.95) scale(0.9545,1)"><text x="0" y="0" style="font-family:&quot;Liberation Serif&quot;,serif;font-weight:bold;font-size:49.62px">a</text></g>
<g transform="translate(733.20,46.90) scale(1.0000,1)"><text x="0" y="0" style="font-family:&quot;Liberation Serif&quot;,serif;font-weight:bold;font-size:47.75px">b</text></g>
<g transform="translate(248.25,56.05) scale(1.0233,1)"><text x="0" y="0" style="font-family:&quot;Liberation Serif&quot;,serif;font-weight:normal;font-size:36.31px">@</text></g>
<g transform="translate(289.60,54.85) scale(1.0000,1)"><text x="0" y="0" style="font-family:&quot;Liberation Serif&quot;,serif;font-weight:bold;font-size:34.74px">1.96 eV</text></g>
<g transform="translate(300.48,98.65) scale(1.0074,1)"><text x="0" y="0" style="font-family:&quot;Liberation Serif&quot;,serif;font-weight:bold;font-size:35.0px">10 K</text></g>
<g transform="translate(584.21,56.70) scale(0.9958,1)"><text x="0" y="0" style="font-family:&quot;Liberation Serif&quot;,serif;font-weight:bold;font-size:36.05px">2 L</text></g>
<g transform="translate(587.00,360.80) scale(0.9958,1)"><text x="0" y="0" style="font-family:&quot;Liberation Serif&quot;,serif;font-weight:bold;font-size:35.26px">3 L</text></g>
<g transform="translate(586.80,657.75) scale(1.0000,1)"><text x="0" y="0" style="font-family:&quot;Liberation Serif&quot;,serif;font-weight:bold;font-size:35.26px">7 L</text></g>
<g transform="translate(564.30,955.80) scale(1.0014,1)"><text x="0" y="0" style="font-family:&quot;Liberation Serif&quot;,serif;font-weight:bold;font-size:34.48px">Bulk</text></g>
<g transform="translate(162.38,1248.15) scale(1.0083,1)"><text x="0" y="0" style="font-family:&quot;Liberation Serif&quot;,serif;font-weight:bold;font-size:35.0px">100</text></g>
<g transform="translate(315.34,1248.65) scale(0.9808,1)"><text x="0" y="0" style="font-family:&quot;Liberation Serif&quot;,serif;font-weight:bold;font-size:37.1px">200</text></g>
<g transform="translate(470.10,1248.60) scale(0.9961,1)"><text x="0" y="0" style="font-family:&quot;Liberation Serif&quot;,serif;font-weight:bold;font-size:35.26px">300</text></g>
<g transform="translate(624.51,1248.60) scale(0.9941,1)"><text x="0" y="0" style="font-family:&quot;Liberation Serif&quot;,serif;font-weight:bold;font-size:35.26px">400</text></g>
<g transform="translate(233.60,1294.15) scale(0.9989,1)"><text x="0" y="0" style="font-family:&quot;Liberation Serif&quot;,serif;font-weight:bold;font-size:34.51px">Raman shift</text></g>
<g transform="translate(423.30,1293.40) scale(1.1000,1)"><text x="0" y="0" style="font-family:&quot;Liberation Serif&quot;,serif;font-weight:normal;font-size:19.25px">(</text></g>
<g transform="translate(430.81,1293.20) scale(0.9905,1)"><text x="0" y="0" style="font-family:&quot;Liberation Serif&quot;,serif;font-weight:bold;font-size:33.75px">cm</text></g>
<g transform="translate(474.08,1276.65) scale(1.0200,1)"><text x="0" y="0" style="font-family:&quot;Liberation Serif&quot;,serif;font-weight:normal;font-size:20.75px">-1</text></g>
<g transform="translate(490.95,1293.45) scale(1.2000,1)"><text x="0" y="0" style="font-family:&quot;Liberation Serif&quot;,serif;font-weight:normal;font-size:19.85px">)</text></g>
<g transform="translate(58.98,727.95) scale(0.9742,1)"><text transform="rotate(-90)" x="0" y="0" style="font-family:&quot;Liberation Serif&quot;,serif;font-weight:bold;font-size:34.48px">Intensity (a.u.)</text></g>
<g transform="translate(816.61,1248.20) scale(0.9879,1)"><text x="0" y="0" style="font-family:&quot;Liberation Sans&quot;,sans-serif;font-weight:bold;font-size:31.35px">50</text></g>
<g transform="translate(986.45,1248.20) scale(1.0260,1)"><text x="0" y="0" style="font-family:&quot;Liberation Sans&quot;,sans-serif;font-weight:bold;font-size:31.8px">100</text></g>
<g transform="translate(1167.10,1248.20) scale(0.9980,1)"><text x="0" y="0" style="font-family:&quot;Liberation Sans&quot;,sans-serif;font-weight:bold;font-size:31.8px">150</text></g>
<g transform="translate(1346.80,1248.20) scale(0.9961,1)"><text x="0" y="0" style="font-family:&quot;Liberation Sans&quot;,sans-serif;font-weight:bold;font-size:31.8px">200</text></g>
<g transform="translate(955.00,1286.75) scale(1.0030,1)"><text x="0" y="0" style="font-family:&quot;Liberation Serif&quot;,serif;font-weight:bold;font-size:32.25px">Raman shift</text></g>
<g transform="translate(1134.02,1286.30) scale(1.0800,1)"><text x="0" y="0" style="font-family:&quot;Liberation Serif&quot;,serif;font-weight:normal;font-size:20.03px">(</text></g>
<g transform="translate(1141.84,1286.70) scale(0.9600,1)"><text x="0" y="0" style="font-family:&quot;Liberation Serif&quot;,serif;font-weight:bold;font-size:32.7px">cm</text></g>
<g transform="translate(1181.99,1268.55) scale(1.0143,1)"><text x="0" y="0" style="font-family:&quot;Liberation Serif&quot;,serif;font-weight:bold;font-size:18.68px">-1</text></g>
<g transform="translate(1199.30,1286.30) scale(1.0000,1)"><text x="0" y="0" style="font-family:&quot;Liberation Serif&quot;,serif;font-weight:normal;font-size:20.03px">)</text></g>
<path d="M975.05,110.50 L973.20,99.80 A2.8,2.8 0 0 1 978.80,99.80 L976.95,110.50 Z M976.95,110.50 L978.80,121.20 A2.8,2.8 0 0 1 973.20,121.20 L975.05,110.50 Z M975.52,109.68 L982.37,103.13 A3.2,3.2 0 0 1 985.57,108.67 L976.48,111.32 Z M976.48,109.68 L985.57,112.33 A3.2,3.2 0 0 1 982.37,117.87 L975.52,111.32 Z M976.48,111.32 L969.63,117.87 A3.2,3.2 0 0 1 966.43,112.33 L975.52,109.68 Z M975.52,111.32 L966.43,108.67 A3.2,3.2 0 0 1 969.63,103.13 L976.48,109.68 Z" fill="#000"/>
<circle cx="976.0" cy="110.5" r="1.5" fill="#000"/>
<path d="M1288.55,81.30 L1286.80,70.50 A2.7,2.7 0 0 1 1292.20,70.50 L1290.45,81.30 Z M1290.45,81.30 L1292.20,92.10 A2.7,2.7 0 0 1 1286.80,92.10 L1288.55,81.30 Z M1289.03,80.48 L1296.10,74.14 A2.9,2.9 0 0 1 1299.00,79.16 L1289.97,82.12 Z M1289.97,80.48 L1299.00,83.44 A2.9,2.9 0 0 1 1296.10,88.46 L1289.03,82.12 Z M1289.97,82.12 L1282.90,88.46 A2.9,2.9 0 0 1 1280.00,83.44 L1289.03,80.48 Z M1289.03,82.12 L1280.00,79.16 A2.9,2.9 0 0 1 1282.90,74.14 L1289.97,80.48 Z" fill="#000"/>
<circle cx="1289.5" cy="81.3" r="1.5" fill="#000"/>
</svg>
</body></html>
